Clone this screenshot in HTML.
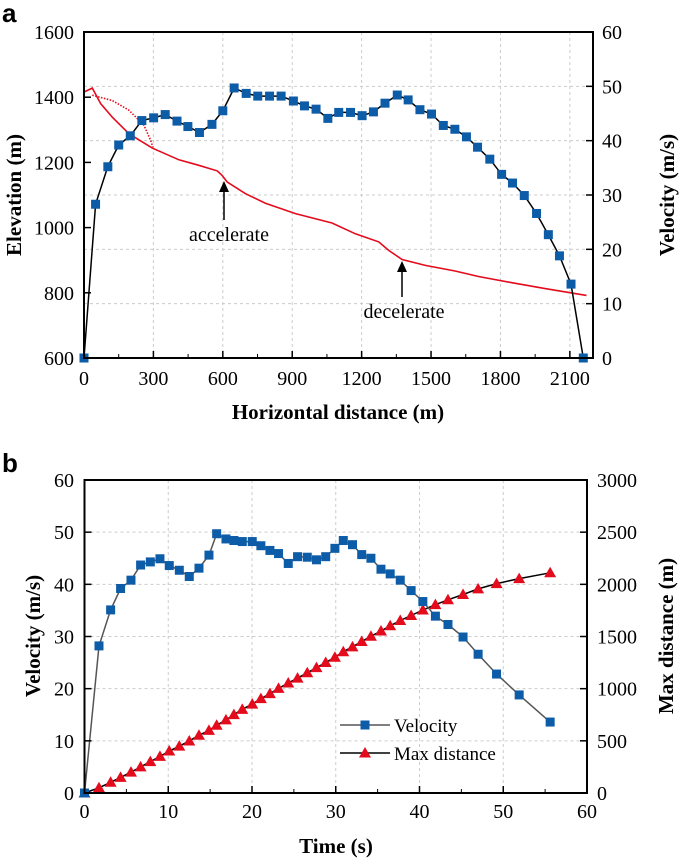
<!DOCTYPE html>
<html><head><meta charset="utf-8"><style>
body{margin:0;background:#fff}
svg text{font-family:"Liberation Serif",serif}
</style></head><body>
<svg id="s" width="685" height="862" viewBox="0 0 685 862">
<text x="2" y="22" font-weight="bold" font-size="26" style="font-family:'Liberation Sans',sans-serif">a</text>
<text x="2" y="472" font-weight="bold" font-size="26" style="font-family:'Liberation Sans',sans-serif">b</text>
<g id="ga"></g>
<g id="gb"></g>
</svg>
<script>
// Chart a data
const aDist = [0,50,103,150,200,250,301,351,402,449,499,553,600,649,701,751,802,852,905,953,1003,1054,1101,1152,1202,1251,1301,1354,1401,1452,1502,1553,1603,1653,1701,1754,1805,1852,1903,1956,2007,2055,2105,2158];
const aVel = [0,28.3,35.2,39.2,40.9,43.7,44.2,44.8,43.6,42.6,41.5,43,45.5,49.7,48.7,48.2,48.2,48.2,47.3,46.4,45.8,44.1,45.2,45.2,44.6,45.3,46.9,48.4,47.5,45.7,44.9,42.8,42.1,40.7,38.8,36.6,33.8,32.2,29.9,26.6,22.7,18.8,13.6,0];
const elevX = [0,36,72,122,194,295,410,496,576,597,619,698,784,914,1072,1173,1274,1317,1375,1475,1604,1705,1849,1993,2172];
const elevY = [1416,1428,1380,1339,1288,1244,1208,1191,1174,1160,1140,1104,1075,1043,1014,981,956,930,902,884,867,850,831,813,792];
const dotX = [36,122,194,259,288,298];
const dotY = [1406,1390,1360,1314,1268,1247];
const aXTicks = [0,300,600,900,1200,1500,1800,2100];
const aElevTicks = [600,800,1000,1200,1400,1600];
const aVelTicks = [0,10,20,30,40,50,60];
// Chart b data
const bTime = [0,1.73,3.12,4.31,5.55,6.7,7.86,9.01,10.12,11.32,12.51,13.67,14.86,15.78,16.89,17.84,18.84,20.03,21.06,22.14,23.17,24.33,25.44,26.6,27.7,28.8,29.9,30.9,32,33.1,34.2,35.4,36.5,37.7,39.0,40.4,41.9,43.4,45.2,47.0,49.2,51.9,55.6];
const bVel = [0,28.2,35.1,39.2,40.8,43.7,44.3,44.9,43.6,42.7,41.5,43.1,45.6,49.7,48.7,48.4,48.2,48.2,47.4,46.5,45.9,44.0,45.3,45.2,44.7,45.3,46.9,48.4,47.6,45.7,45.0,42.9,42.0,40.8,38.8,36.7,33.9,32.3,29.9,26.6,22.8,18.8,13.6];
const bDist = [0,50,103,150,200,250,301,351,402,449,499,553,600,649,701,751,802,852,905,953,1003,1054,1101,1152,1202,1251,1301,1354,1401,1452,1502,1553,1603,1653,1701,1754,1805,1852,1903,1956,2007,2055,2111];
const bXTicks = [0,10,20,30,40,50,60];
const bVelTicks = [0,10,20,30,40,50,60];
const bDistTicks = [0,500,1000,1500,2000,2500,3000];

const NS="http://www.w3.org/2000/svg";
function mk(p,tag,attrs,txt){const e=document.createElementNS(NS,tag);for(const k in attrs)e.setAttribute(k,attrs[k]);if(txt!==undefined)e.textContent=txt;p.appendChild(e);return e;}
const BLUE="#0d5ca8", RED="#e30b1c";
const FS=20;

// ---------- chart a ----------
(function(){
const g=document.getElementById('ga');
const L=84,R=593,T=32,B=358;
const x=v=>L+(v/2200)*(R-L);
const yE=v=>B-(v-600)/1000*(B-T);
const yV=v=>B-v/60*(B-T);
aVelTicks.forEach(t=>{ if(t>0&&t<60){const l=mk(g,'line',{x1:L,x2:R,y1:yV(t),y2:yV(t),stroke:'#ccc','stroke-dasharray':'3,3','stroke-width':1});

}});
aXTicks.forEach(t=>{ if(t>0){const l=mk(g,'line',{x1:x(t),x2:x(t),y1:T,y2:B,stroke:'#ccc','stroke-dasharray':'3,3','stroke-width':1});

}});
let d=elevX.map((v,i)=>(i?'L':'M')+x(v).toFixed(1)+','+yE(elevY[i]).toFixed(1)).join('');
const el=mk(g,'path',{d:d,fill:'none',stroke:RED,'stroke-width':1.6});


d=dotX.map((v,i)=>(i?'L':'M')+x(v).toFixed(1)+','+yE(dotY[i]).toFixed(1)).join('');
const dl=mk(g,'path',{d:d,fill:'none',stroke:RED,'stroke-width':1.6,'stroke-dasharray':'1.5,1.5'});


d=aDist.map((v,i)=>(i?'L':'M')+x(v).toFixed(1)+','+yV(aVel[i]).toFixed(1)).join('');
const vl=mk(g,'path',{d:d,fill:'none',stroke:'#000','stroke-width':1.5});


aDist.forEach((v,i)=>{const r=mk(g,'rect',{x:x(v)-4.5,y:yV(aVel[i])-4.5,width:9,height:9,fill:BLUE});

});
const fr=mk(g,'rect',{x:L,y:T,width:R-L,height:B-T,fill:'none',stroke:'#000','stroke-width':2});


aXTicks.forEach(t=>{mk(g,'line',{x1:x(t),x2:x(t),y1:B,y2:B-7,stroke:'#000','stroke-width':1.5});
const tx=mk(g,'text',{x:x(t),y:B+27,'font-size':FS,'text-anchor':'middle'},t);

});
for(let t=150;t<2200;t+=300)mk(g,'line',{x1:x(t),x2:x(t),y1:B,y2:B-4,stroke:'#000','stroke-width':1});
aElevTicks.forEach(t=>{mk(g,'line',{x1:L,x2:L+7,y1:yE(t),y2:yE(t),stroke:'#000','stroke-width':1.5});
const tx=mk(g,'text',{x:74,y:yE(t)+7,'font-size':FS,'text-anchor':'end'},t);

});
aVelTicks.forEach(t=>{mk(g,'line',{x1:R,x2:R-7,y1:yV(t),y2:yV(t),stroke:'#000','stroke-width':1.5});
const tx=mk(g,'text',{x:602,y:yV(t)+7,'font-size':FS},t);

});
let t1=mk(g,'text',{x:338,y:419,'font-size':21,'font-weight':'bold','text-anchor':'middle'},'Horizontal distance (m)');


t1=mk(g,'text',{transform:'translate(21,195) rotate(-90)','font-size':21,'font-weight':'bold','text-anchor':'middle'},'Elevation (m)');


t1=mk(g,'text',{transform:'translate(674,195) rotate(-90)','font-size':21,'font-weight':'bold','text-anchor':'middle'},'Velocity (m/s)');


mk(g,'line',{x1:224,x2:224,y1:220,y2:185,stroke:'#000','stroke-width':1.5});
mk(g,'path',{d:'M224,181 L219,192 L229,192 Z',fill:'#000'});
t1=mk(g,'text',{x:229,y:241,'font-size':20,'text-anchor':'middle'},'accelerate');


mk(g,'line',{x1:402,x2:402,y1:297,y2:265,stroke:'#000','stroke-width':1.5});
mk(g,'path',{d:'M402,261 L397,272 L407,272 Z',fill:'#000'});
t1=mk(g,'text',{x:404,y:318,'font-size':20,'text-anchor':'middle'},'decelerate');


})();

// ---------- chart b ----------
(function(){
const g=document.getElementById('gb');
const L=84.5,R=587,T=480,B=793;
const x=v=>L+v/60*(R-L);
const yV=v=>B-v/60*(B-T);
const yD=v=>B-v/3000*(B-T);
bVelTicks.forEach(t=>{ if(t>0&&t<60){const l=mk(g,'line',{x1:L,x2:R,y1:yV(t),y2:yV(t),stroke:'#ccc','stroke-dasharray':'3,3','stroke-width':1});

}});
bXTicks.forEach(t=>{ if(t>0&&t<60){const l=mk(g,'line',{x1:x(t),x2:x(t),y1:T,y2:B,stroke:'#ccc','stroke-dasharray':'3,3','stroke-width':1});

}});
let d=bTime.map((v,i)=>(i?'L':'M')+x(v).toFixed(1)+','+yD(bDist[i]).toFixed(1)).join('');
let p=mk(g,'path',{d:d,fill:'none',stroke:'#000','stroke-width':1.5});


d=bTime.map((v,i)=>(i?'L':'M')+x(v).toFixed(1)+','+yV(bVel[i]).toFixed(1)).join('');
p=mk(g,'path',{d:d,fill:'none',stroke:'#555','stroke-width':1.5});


bTime.forEach((v,i)=>{const cx=x(v),cy=yD(bDist[i]);
const tr=mk(g,'path',{d:`M${cx},${cy-6}L${cx+6},${cy+4.5}L${cx-6},${cy+4.5}Z`,fill:RED});

});
bTime.forEach((v,i)=>{const r=mk(g,'rect',{x:x(v)-4.5,y:yV(bVel[i])-4.5,width:9,height:9,fill:BLUE});

});
const fr=mk(g,'rect',{x:L,y:T,width:R-L,height:B-T,fill:'none',stroke:'#000','stroke-width':2});


bXTicks.forEach(t=>{mk(g,'line',{x1:x(t),x2:x(t),y1:B,y2:B-7,stroke:'#000','stroke-width':1.5});
const tx=mk(g,'text',{x:x(t),y:B+25,'font-size':FS,'text-anchor':'middle'},t);

});
for(let t=5;t<60;t+=10)mk(g,'line',{x1:x(t),x2:x(t),y1:B,y2:B-4,stroke:'#000','stroke-width':1});
bVelTicks.forEach(t=>{mk(g,'line',{x1:L,x2:L+7,y1:yV(t),y2:yV(t),stroke:'#000','stroke-width':1.5});
const tx=mk(g,'text',{x:74,y:yV(t)+7,'font-size':FS,'text-anchor':'end'},t);

});
bDistTicks.forEach(t=>{mk(g,'line',{x1:R,x2:R-7,y1:yD(t),y2:yD(t),stroke:'#000','stroke-width':1.5});
const tx=mk(g,'text',{x:597,y:yD(t)+7,'font-size':FS},t);

});
let t1=mk(g,'text',{x:336,y:853,'font-size':21,'font-weight':'bold','text-anchor':'middle'},'Time (s)');


t1=mk(g,'text',{transform:'translate(40,636) rotate(-90)','font-size':21,'font-weight':'bold','text-anchor':'middle'},'Velocity (m/s)');


t1=mk(g,'text',{transform:'translate(673,636) rotate(-90)','font-size':21,'font-weight':'bold','text-anchor':'middle'},'Max distance (m)');


mk(g,'line',{x1:340,x2:390,y1:725,y2:725,stroke:'#555','stroke-width':1.5});
mk(g,'rect',{x:360.5,y:720.5,width:9,height:9,fill:BLUE});
t1=mk(g,'text',{x:394,y:732,'font-size':19},'Velocity');


mk(g,'line',{x1:340,x2:390,y1:753,y2:753,stroke:'#000','stroke-width':1.5});
mk(g,'path',{d:'M365,747L371,757.5L359,757.5Z',fill:RED});
t1=mk(g,'text',{x:394,y:760,'font-size':19},'Max distance');


})();
</script>
</body></html>
